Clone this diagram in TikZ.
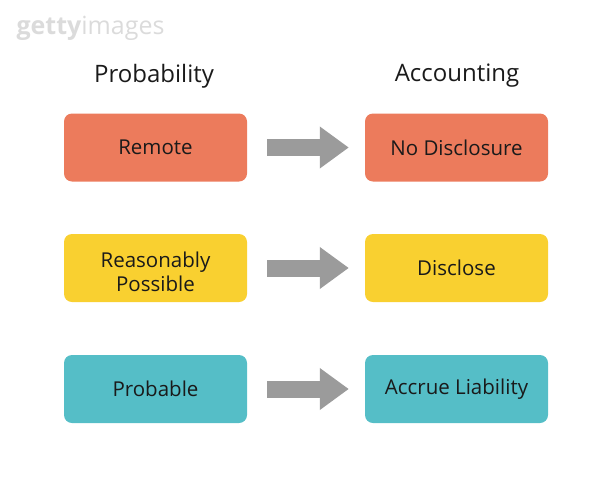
\documentclass[tikz,border=0pt]{standalone}
\usepackage{fontspec}
\setmainfont{Open Sans}
\usetikzlibrary{arrows.meta}
\definecolor{remotecol}{HTML}{EC7B5C}
\definecolor{possiblecol}{HTML}{F9D030}
\definecolor{probablecol}{HTML}{55BEC7}
\definecolor{arrowcol}{HTML}{9B9B9B}
\definecolor{textcol}{HTML}{1A1A1A}
\tikzset{
  boxtext/.style={align=center, inner sep=0pt, text=textcol,
              font=\fontsize{20.5}{24}\selectfont},
  box/.style={boxtext, rounded corners=8pt, minimum width=183pt, minimum height=68pt},
  heading/.style={text=textcol, font=\fontsize{24}{28}\selectfont},
  blockarrow/.style={arrowcol, line width=17pt,
              -{Triangle[width=40pt,length=29pt]}}
}
\begin{document}
\begin{tikzpicture}[x=1pt,y=-1pt]
\useasboundingbox (0,0) rectangle (612,490);
%watermark
\node[font=\fontsize{25}{28}\selectfont, text=black!14, anchor=west] (mark) at (13,28) {\textbf{getty}images};

%headings
\node[heading] (prob) at (154,76) {Probability};
\node[heading] (acc) at (457,76) {Accounting};

%left column
\node[box, fill=remotecol] (remote) at (155.5,147.5) {Remote};
\node[box, fill=possiblecol] (possible) at (155.5,268) {};
\node[boxtext] (possibletext) at ([yshift=-4pt]possible.center) {Reasonably\\Possible};
\node[box, fill=probablecol] (probable) at (155.5,389) {Probable};

%right column
\node[box, fill=remotecol] (nodisc) at (456.5,147.5) {No Disclosure};
\node[box, fill=possiblecol] (disc) at (456.5,268) {Disclose};
\node[box, fill=probablecol] (accrue) at (456.5,389) {Accrue Liability};

%arrows
\draw[blockarrow] ([xshift=20pt]remote.east) -- ([xshift=-16pt]nodisc.west);
\draw[blockarrow] ([xshift=20pt]possible.east) -- ([xshift=-16pt]disc.west);
\draw[blockarrow] ([xshift=20pt]probable.east) -- ([xshift=-16pt]accrue.west);
\end{tikzpicture}
\end{document}
